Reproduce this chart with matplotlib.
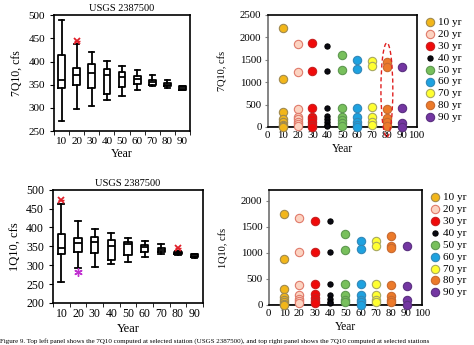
import numpy as np
import matplotlib
matplotlib.use("Agg")
import matplotlib.pyplot as plt
from matplotlib.patches import Ellipse

plt.rcParams['font.family'] = ['Liberation Serif', 'DejaVu Serif']

# --------------------------
# Data
# --------------------------
years = [10, 20, 30, 40, 50, 60, 70, 80, 90]

# box plot stats: whislo, q1, med, q3, whishi
q7_lo = [271, 297, 305, 318, 326, 339, 347, 344, 338]
q7_q1 = [343, 350, 343, 331, 345, 352, 350, 347, 339]
q7_med = [361, 372, 375, 370, 367, 362, 356, 350, 343]
q7_q3 = [415, 386, 394, 385, 377, 368, 361, 354, 347]
q7_hi = [489, 437, 421, 401, 390, 381, 370, 361, 348]
q7_out_hi = [[], [444], [], [], [], [], [], [], []]
q7_out_lo = [[], [], [], [], [], [], [], [], []]

q1_lo = [256, 292, 294, 302, 309, 322, 329, 327, 320]
q1_q1 = [329, 336, 331, 313, 327, 336, 334, 329, 321]
q1_med = [346, 358, 361, 352, 356, 349, 339, 333, 325]
q1_q3 = [382, 371, 376, 367, 362, 353, 345, 336, 329]
q1_hi = [462, 417, 396, 385, 373, 364, 355, 338, 330]
q1_out_hi = [[472], [], [], [], [], [], [], [346], []]
q1_out_lo = [[], [281], [], [], [], [], [], [], []]

series_labels = ['10 yr', '20 yr', '30 yr', '40 yr', '50 yr',
                 '60 yr', '70 yr', '80 yr', '90 yr']
face_colors = ['#F2B61A', '#FCD3C1', '#F00A0A', '#0A0A14', '#78C05C',
               '#1EA2E0', '#FFFF30', '#EC7A2A', '#7436A2']
edge_colors = ['#A08A50', '#E07A6A', '#C82020', '#000000', '#5E9850',
               '#3288B8', '#A8A860', '#C86A30', '#5A3080']

q7_points = [
    [2200, 1070, 330, 180, 100, 50, 20, 0],
    [1850, 1230, 400, 230, 170, 110, 60, 20],
    [1870, 1240, 430, 230, 170, 100, 50, 0],
    [1800, 1240, 430, 240, 170, 100, 50, 20],
    [1610, 1280, 430, 230, 150, 80, 30],
    [1490, 1300, 430, 230, 120, 50, 0],
    [1480, 1350, 440, 230, 120, 50],
    [1450, 1330, 410, 210, 100, 30],
    [1340, 430, 90, 0],
]
q1_points = [
    [1740, 890, 300, 160, 100, 50, 20, 0],
    [1670, 1010, 380, 200, 120, 70, 30],
    [1610, 1020, 400, 210, 130, 80, 30],
    [1610, 1020, 400, 200, 120, 60, 30],
    [1360, 1060, 400, 200, 100, 50],
    [1230, 1080, 400, 200, 100, 50, 0],
    [1220, 1130, 400, 200, 100, 50],
    [1320, 1130, 1100, 380, 180, 100, 50],
    [1120, 360, 90, 0],
]


def box_panel(ax, lo, q1, med, q3, hi, out_hi, out_lo, ylab, ylim, ticksize):
    stats = []
    for i in range(len(years)):
        stats.append(dict(whislo=lo[i], q1=q1[i], med=med[i], q3=q3[i],
                          whishi=hi[i], fliers=[]))
    pos = np.arange(1, len(years) + 1)
    ax.bxp(stats, positions=pos, widths=0.45, capwidths=0.35,
           showfliers=False,
           boxprops=dict(color='black', lw=1.3),
           whiskerprops=dict(color='black', lw=1.3),
           capprops=dict(color='black', lw=1.3),
           medianprops=dict(color='black', lw=1.3))
    for i in range(len(years)):
        for v in out_hi[i]:
            ax.plot(pos[i], v, marker='x', color='#E0202A', ms=4.5, mew=1.3)
            ax.plot(pos[i], v, marker='_', color='#E0202A', ms=4.5, mew=1.0)
        for v in out_lo[i]:
            ax.plot(pos[i], v, marker=(6, 2, 0), color='#C030D0', ms=6, mew=1.0)
    ax.set_xlim(0.5, len(years) + 0.5)
    ax.set_ylim(*ylim)
    ax.set_xticks(pos)
    ax.set_xticklabels([str(y) for y in years])
    ax.set_xticks(np.arange(0.5, len(years) + 1), minor=True)
    ax.tick_params(axis='x', which='major', length=0, labelsize=ticksize, pad=4)
    ax.tick_params(axis='x', which='minor', length=3, direction='out')
    ax.tick_params(axis='y', length=3, labelsize=ticksize)
    ax.set_xlabel('Year', fontsize=ticksize + 0.5, labelpad=2)
    ax.set_ylabel(ylab, fontsize=ticksize + 0.5, labelpad=3)
    ax.set_title('USGS 2387500', fontsize=7.5, pad=3)
    for s in ax.spines.values():
        s.set_linewidth(1.2)


def scatter_panel(ax, points, ylim, ticksize, ylab):
    for i, vals in enumerate(points):
        sz = 14 if i == 3 else 36
        ax.scatter([years[i]] * len(vals), vals, s=sz, c=face_colors[i],
                   edgecolors=edge_colors[i], linewidths=0.8,
                   label=series_labels[i], zorder=3, clip_on=False)
    ax.axhline(0, color='#808080', lw=1.8, zorder=2)
    ax.set_xlim(0, 100)
    ax.set_ylim(*ylim)
    ax.set_xticks(np.arange(0, 101, 10))
    ax.tick_params(axis='x', length=0, labelsize=ticksize, pad=3)
    ax.tick_params(axis='y', length=2.5, color='#808080', labelsize=ticksize, pad=2)
    ax.set_xlabel('Year', fontsize=ticksize + 0.5, labelpad=2)
    ax.set_ylabel(ylab, fontsize=7.5, labelpad=9)
    for s in ax.spines.values():
        s.set_linewidth(1.2)
    ax.spines['left'].set_color('#707070')
    ax.legend(loc='upper left', bbox_to_anchor=(1.0, 1.04), frameon=False,
              fontsize=ticksize + 0.3, handletextpad=0.1, borderaxespad=0.2,
              labelspacing=0.18, handlelength=1.2, markerscale=1.0)


fig = plt.figure(figsize=(4.74, 3.45), dpi=100)

ax1 = fig.add_axes([0.114, 0.620, 0.287, 0.336])
box_panel(ax1, q7_lo, q7_q1, q7_med, q7_q3, q7_hi, q7_out_hi, q7_out_lo,
          '7Q10, cfs', (250, 500), 8)
ax1.set_yticks(np.arange(250, 501, 50))

ax2 = fig.add_axes([0.565, 0.632, 0.314, 0.325])
scatter_panel(ax2, q7_points, (0, 2500), 7.8, '7Q10, cfs')
ax2.set_yticks(np.arange(0, 2501, 500))
ell = Ellipse((80, 825), 8, 2100, fill=False, ec='#E02020', ls=(0, (3, 2)),
              lw=1.0, clip_on=False, zorder=4)
ax2.add_patch(ell)

ax3 = fig.add_axes([0.112, 0.122, 0.316, 0.328])
box_panel(ax3, q1_lo, q1_q1, q1_med, q1_q3, q1_hi, q1_out_hi, q1_out_lo,
          '1Q10, cfs', (200, 500), 8.5)
ax3.set_yticks(np.arange(200, 501, 50))

ax4 = fig.add_axes([0.567, 0.116, 0.323, 0.333])
scatter_panel(ax4, q1_points, (0, 2200), 7.8, '1Q10, cfs')
ax4.set_yticks(np.arange(0, 2001, 500))

fig.text(0.0, 0.003, 'Figure 9. Top left panel shows the 7Q10 computed at selected station '
         '(USGS 2387500), and top right panel shows the 7Q10 computed at selected stations',
         fontsize=5, ha='left', va='bottom')

fig.savefig('out.png', dpi=100)
